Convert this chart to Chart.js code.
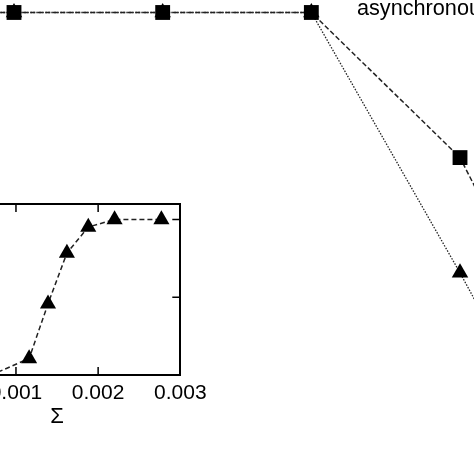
<!DOCTYPE html>
<html>
<head>
<meta charset="utf-8">
<script src="https://cdn.jsdelivr.net/npm/chart.js@4"></script>
<style>
  html, body { margin: 0; padding: 0; width: 474px; height: 474px; overflow: hidden; background: #fff; }
  #main { position: absolute; left: 0; top: 0; }
  #inset { position: absolute; left: -100px; top: 190px; }
</style>
</head>
<body>
<canvas id="main" width="474" height="474"></canvas>
<canvas id="inset" width="340" height="240"></canvas>
<script>
// main panel (cropped): positions along x and the two curves
const mainX = [0, 1, 2, 3, 4, 5];
const syncY = [1.0, 1.0, 1.0, 1.0, 0.728, 0.182];   // squares, dashed
const asyncY = [1.0, 1.0, 1.0, 1.0, 0.512, 0.0];    // triangles, dotted
const legendText = 'asynchronous';

// inset: order parameter vs Sigma
const insetX = [0.0003, 0.0005, 0.0007, 0.00116, 0.00139, 0.00162, 0.00188, 0.0022, 0.00277];
const insetY = [0, 0, 0, 0.106, 0.458, 0.784, 0.952, 1.0, 1.0];
const insetXTicks = [0, 0.001, 0.002, 0.003];

const FONT = '"Liberation Sans", Arial, Helvetica, sans-serif';
const pts = (xs, ys) => xs.map((x, i) => ({ x: x, y: ys[i] }));

const labelPlugin = {
  id: 'label',
  afterDraw(chart) {
    const ctx = chart.ctx;
    ctx.save();
    ctx.fillStyle = '#000';
    // size the legend text so the visible part spans the same width as in the picture
    ctx.font = '20px ' + FONT;
    const w = ctx.measureText(legendText.slice(0, 10)).width;
    const size = 20 * 112 / w;
    ctx.font = size.toFixed(2) + 'px ' + FONT;
    ctx.textBaseline = 'alphabetic';
    ctx.fillText(legendText, 357, 15);
    ctx.restore();
  }
};

new Chart(document.getElementById('main'), {
  type: 'line',
  data: {
    datasets: [{
      data: pts(mainX, syncY),
      borderColor: '#222', borderWidth: 1.5, borderDash: [5, 2.5],
      pointStyle: 'rect', pointRadius: 10.5, pointBorderWidth: 0,
      pointBackgroundColor: '#000'
    }, {
      data: pts(mainX, asyncY),
      borderColor: '#222', borderWidth: 1.3, borderDash: [1.5, 1.5],
      pointStyle: 'triangle', pointRadius: 9.5, pointBorderWidth: 0,
      pointBackgroundColor: '#000'
    }]
  },
  options: {
    responsive: false, animation: false,
    layout: { padding: 0, autoPadding: false },
    plugins: { legend: { display: false }, tooltip: { enabled: false } },
    scales: {
      x: { type: 'linear', min: 0.9058, max: 4.0941, display: false },
      y: { type: 'linear', min: 0.1349, max: 1.0234, display: false }
    }
  },
  plugins: [labelPlugin]
});

// inward tick marks on all four sides of the inset box
const tickPlugin = {
  id: 'ticks',
  afterDraw(chart) {
    const ctx = chart.ctx, a = chart.chartArea;
    const xs = chart.scales.x, ys = chart.scales.y;
    ctx.save();
    ctx.strokeStyle = '#000';
    ctx.lineWidth = 1.5;
    ctx.beginPath();
    xs.ticks.forEach(t => {
      if (t.value <= xs.min || t.value >= xs.max - 1e-9) return;
      const p = xs.getPixelForValue(t.value);
      ctx.moveTo(p, a.bottom); ctx.lineTo(p, a.bottom - 8);
      ctx.moveTo(p, a.top); ctx.lineTo(p, a.top + 8);
    });
    ys.ticks.forEach(t => {
      if (t.value <= ys.min || t.value >= ys.max - 1e-9) return;
      const p = ys.getPixelForValue(t.value);
      ctx.moveTo(a.left, p); ctx.lineTo(a.left + 8, p);
      ctx.moveTo(a.right, p); ctx.lineTo(a.right - 8, p);
    });
    ctx.stroke();
    ctx.restore();
  }
};

const border = { display: true, color: '#000', width: 2 };

new Chart(document.getElementById('inset'), {
  type: 'line',
  data: {
    datasets: [{
      data: pts(insetX, insetY),
      borderColor: '#222', borderWidth: 1.5, borderDash: [5, 3],
      pointStyle: 'triangle', pointRadius: 9.3, pointBorderWidth: 0,
      pointBackgroundColor: '#000'
    }]
  },
  options: {
    responsive: false, animation: false,
    layout: { padding: 0, autoPadding: false },
    plugins: { legend: { display: false }, tooltip: { enabled: false } },
    scales: {
      x: {
        type: 'linear', position: 'bottom', min: 0, max: 0.003,
        afterBuildTicks: s => { s.ticks = insetXTicks.map(v => ({ value: v })); },
        ticks: {
          color: '#000', font: { family: FONT, size: 21 }, padding: 6, maxRotation: 0,
          callback: v => (v === 0 ? '0' : v.toFixed(3))
        },
        grid: { display: false, drawTicks: false },
        border: border,
        title: { display: true, text: 'Σ', color: '#000', font: { family: FONT, size: 22 }, padding: { top: 0, bottom: 0 } },
        afterFit: s => { s.height = 55; }
      },
      x2: {
        type: 'linear', position: 'top', min: 0, max: 0.003,
        ticks: { display: false }, grid: { display: false, drawTicks: false },
        border: border,
        afterFit: s => { s.height = 14; }
      },
      y: {
        type: 'linear', position: 'left', min: 0, max: 1.1,
        ticks: { display: false, stepSize: 0.5 }, grid: { display: false, drawTicks: false },
        border: border,
        afterFit: s => { s.width = 33.8; }
      },
      y2: {
        type: 'linear', position: 'right', min: 0, max: 1.1,
        ticks: { display: false }, grid: { display: false, drawTicks: false },
        border: border,
        afterFit: s => { s.width = 59.7; }
      }
    }
  },
  plugins: [tickPlugin]
});
</script>
</body>
</html>
